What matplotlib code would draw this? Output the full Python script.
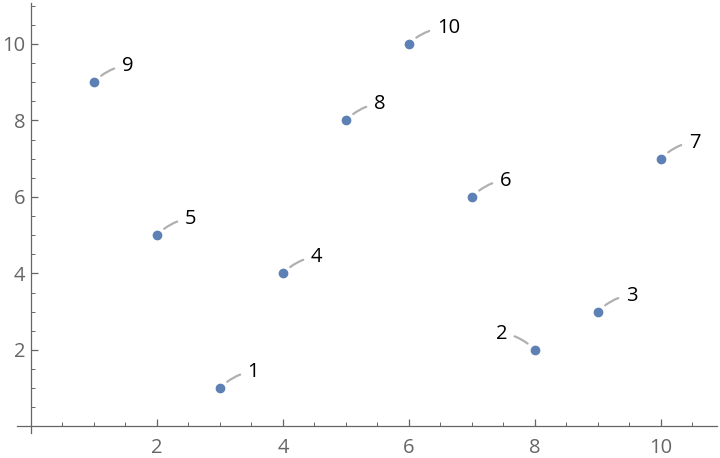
import matplotlib
matplotlib.use("Agg")
import matplotlib.pyplot as plt
from matplotlib.ticker import MultipleLocator

# datos
xs = [1, 2, 3, 4, 5, 6, 7, 8, 9, 10]
ys = [9, 5, 1, 4, 8, 10, 6, 2, 3, 7]
etiquetas = ["9", "5", "1", "4", "8", "10", "6", "2", "3", "7"]
a_izquierda = ["2"]

PUNTO = "#5e81b5"
GRIS_EJE = "#666666"
GRIS_LINEA = "#b0b0b0"

plt.rcParams['font.family'] = ['Open Sans', 'DejaVu Sans']

fig = plt.figure(figsize=(7.2, 4.58), dpi=100)
ax = fig.add_axes([17 / 720, 25 / 458, 700 / 720, 430 / 458])

ax.plot(xs, ys, 'o', color=PUNTO, markersize=6, zorder=3)

for x, y, et in zip(xs, ys, etiquetas):
    if et in a_izquierda:
        off, ha, angB = (-20, 11.5), 'right', 135
    else:
        off, ha, angB = (20, 11.5), 'left', 45
    ax.annotate(et, (x, y), xytext=off, textcoords='offset points',
                ha=ha, va='center', fontsize=14.5, color='black',
                arrowprops=dict(arrowstyle='-', color=GRIS_LINEA, lw=1.6,
                                shrinkA=3.5, shrinkB=7,
                                connectionstyle=f"angle3,angleA=0,angleB={angB}"))

ax.set_xlim(-0.22, 10.89)
ax.set_ylim(-0.17, 11.07)

for s in ['top', 'right']:
    ax.spines[s].set_visible(False)
ax.spines['left'].set_position(('data', 0))
ax.spines['bottom'].set_position(('data', 0))
for s in ['left', 'bottom']:
    ax.spines[s].set_color(GRIS_EJE)
    ax.spines[s].set_linewidth(0.9)

ax.xaxis.set_major_locator(MultipleLocator(2))
ax.xaxis.set_minor_locator(MultipleLocator(0.5))
ax.yaxis.set_major_locator(MultipleLocator(2))
ax.yaxis.set_minor_locator(MultipleLocator(0.5))
ax.set_xticks([2, 4, 6, 8, 10])
ax.set_yticks([2, 4, 6, 8, 10])

ax.tick_params(which='major', direction='in', length=5, width=0.9,
               color=GRIS_EJE, labelcolor=GRIS_EJE, labelsize=14.5)
ax.tick_params(which='minor', direction='in', length=3, width=0.7, color=GRIS_EJE)
ax.tick_params(axis='x', pad=8)
ax.tick_params(axis='y', pad=4)

fig.savefig("out.png", dpi=100)
